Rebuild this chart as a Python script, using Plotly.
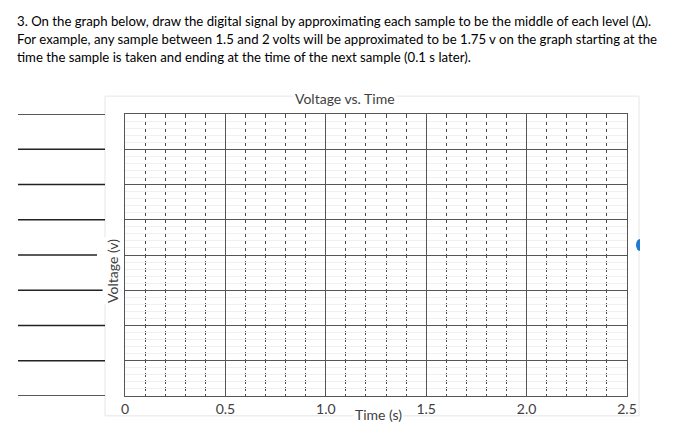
import plotly.graph_objects as go

# axis values
time_ticks = [0, 0.5, 1.0, 1.5, 2.0, 2.5]
time_labels = ["0", "0.5", "1.0", "1.5", "2.0", "2.5"]
voltage_levels = [0, 0.5, 1.0, 1.5, 2.0, 2.5, 3.0, 3.5, 4.0]

question = [
    "3. On the graph below, draw the digital signal by approximating each sample to be the middle of each level (\u0394).",
    "For example, any sample between 1.5 and 2 volts will be approximated to be 1.75 v on the graph starting at the",
    "time the sample is taken and ending at the time of the next sample (0.1 s later).",
]

# page has an 8px body margin, so the figure is 8px smaller and shifted
OFF = 8
W, H = 687 - OFF, 429 - OFF
ML, MR, MT, MB = 125, 60, 114, 31  # in page pixels
FONT = "Lato, Calibri, sans-serif"
DARK = "#555555"

fig = go.Figure()
# empty trace so the axes get their ranges (students draw the signal)
fig.add_trace(go.Scatter(x=[time_ticks[0], time_ticks[-1]],
                         y=[voltage_levels[0], voltage_levels[-1]],
                         mode="markers", marker=dict(opacity=0),
                         hoverinfo="skip", showlegend=False))

fig.update_xaxes(range=[time_ticks[0], time_ticks[-1]],
                 tickvals=time_ticks, ticktext=time_labels,
                 showgrid=True, gridcolor=DARK, gridwidth=1,
                 zeroline=False, showline=True, mirror=True,
                 linecolor=DARK, linewidth=1, ticks="",
                 tickfont=dict(family=FONT, size=14, color="#404040"),
                 minor=dict(dtick=0.1, showgrid=True, gridcolor="#4a4a4a",
                            griddash="4px,3px", gridwidth=1))
fig.update_yaxes(range=[voltage_levels[0], voltage_levels[-1]],
                 tickvals=voltage_levels, showticklabels=False,
                 showgrid=True, gridcolor=DARK, gridwidth=1,
                 zeroline=False, showline=True, mirror=True,
                 linecolor=DARK, linewidth=1, ticks="",
                 minor=dict(dtick=0.1, showgrid=True, gridcolor="#f0f0f0",
                            gridwidth=1))

pw = 687 - ML - MR
ph = 429 - MT - MB


def px_x(p):
    return (p - ML) / pw


def px_y(p):
    return (429 - MB - p) / ph


shapes = []
# light chart frame
shapes.append(dict(type="rect", xref="paper", yref="paper",
                   x0=px_x(105), x1=px_x(639), y0=px_y(418), y1=px_y(96),
                   line=dict(color="#e6e6e6", width=1), layer="below"))
# answer blanks on the left, one per voltage level
for v in voltage_levels[::-1]:
    x1 = 97 if v == 2.0 else 105
    shapes.append(dict(type="line", xref="paper", yref="y",
                       x0=px_x(18), x1=px_x(x1), y0=v, y1=v,
                       line=dict(color="#222222", width=1.5)))
# resize handle peeking out on the right
shapes.append(dict(type="circle", xref="paper", yref="paper",
                   x0=px_x(636), x1=px_x(644), y0=px_y(252), y1=px_y(240),
                   fillcolor="#1f78d1", line=dict(width=0)))
shapes.append(dict(type="rect", xref="paper", yref="paper",
                   x0=px_x(640), x1=px_x(648), y0=px_y(254), y1=px_y(238),
                   fillcolor="white", line=dict(width=0)))

annotations = []
for i, line in enumerate(question):
    annotations.append(dict(text=line, xref="paper", yref="paper",
                            x=px_x(15), y=px_y(20 + i * 18.5),
                            xanchor="left", yanchor="middle", showarrow=False,
                            font=dict(family=FONT, size=13.2, color="#000000")))
annotations.append(dict(text="Voltage vs. Time", xref="paper", yref="paper",
                        x=px_x(345), y=px_y(98), xanchor="center",
                        yanchor="middle", showarrow=False, bgcolor="white",
                        font=dict(family=FONT, size=14, color="#404040")))
annotations.append(dict(text="Time (s)", xref="paper", yref="paper",
                        x=px_x(378), y=px_y(417), xanchor="center",
                        yanchor="middle", showarrow=False, bgcolor="white",
                        font=dict(family=FONT, size=14, color="#404040")))
annotations.append(dict(text="Voltage (v)", xref="paper", yref="paper",
                        x=px_x(113), y=px_y(272), xanchor="center",
                        yanchor="middle", showarrow=False, textangle=-90,
                        bgcolor="white",
                        font=dict(family=FONT, size=14, color="#404040")))

fig.update_layout(width=W, height=H,
                  margin=dict(l=ML - OFF, r=MR, t=MT - OFF, b=MB),
                  paper_bgcolor="white", plot_bgcolor="white",
                  shapes=shapes, annotations=annotations,
                  showlegend=False)

fig.write_html("out.html")
